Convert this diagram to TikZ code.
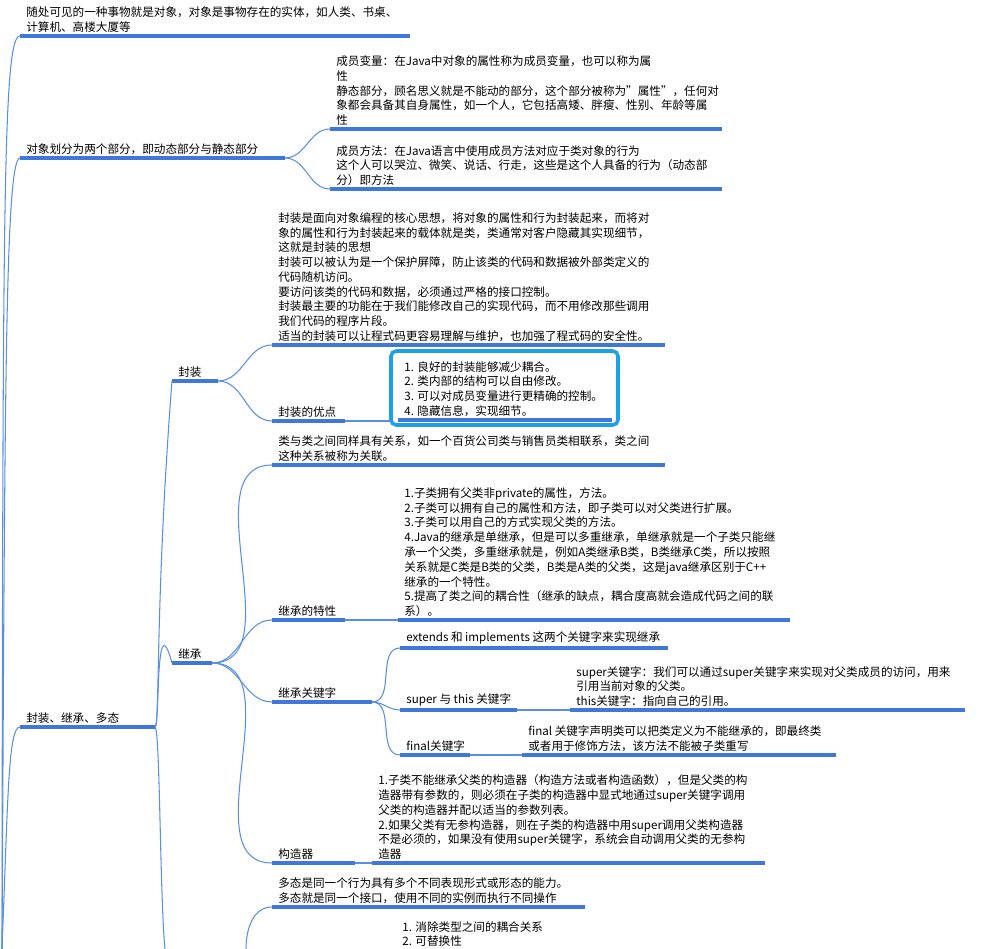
\documentclass[tikz,border=0pt]{standalone}
\usepackage{fontspec}
\setmainfont{Noto Sans CJK SC}
\usetikzlibrary{positioning}
\definecolor{lineblue}{HTML}{3F78D6}
\definecolor{linkblue}{HTML}{5A8FE0}
\definecolor{boxblue}{HTML}{1BA1E6}
% one topic: coordinates of its underline, the underline, and its text above it
\newcommand{\topic}[5]{%
  \coordinate (#1-s) at (#2,#4);
  \coordinate (#1-e) at (#3,#4);
  \draw[uline] (#1-s) -- (#1-e);
  \node[mytext] (#1) at ([xshift=6*0.02cm,yshift=3*0.02cm]#1-s) {#5};}
\begin{document}
\begin{tikzpicture}[x=0.02cm, y=-0.02cm]
\tikzset{
    mytext/.style={anchor=south west, inner sep=0pt, align=left, font=\fontsize{6.6}{8.4}\selectfont},
    uline/.style={draw=lineblue, line width=2.2pt},
    link/.style={draw=linkblue, line width=0.6pt},
    goodbox/.style={draw=boxblue, line width=2pt, rounded corners=3pt}
}
\useasboundingbox (0,0) rectangle (992,949);
\begin{scope}
\clip (0,0) rectangle (992,949);
\coordinate (root) at (2,949);

\topic{obj}{20}{410}{36}{随处可见的一种事物就是对象，对象是事物存在的实体，如人类、书桌、\\计算机、高楼大厦等}
\topic{parts}{20}{285}{158}{对象划分为两个部分，即动态部分与静态部分}
\topic{var}{330}{722}{129}{成员变量：在Java中对象的属性称为成员变量，也可以称为属\\性\\静态部分，顾名思义就是不能动的部分，这个部分被称为"属性"，任何对\\象都会具备其自身属性，如一个人，它包括高矮、胖瘦、性别、年龄等属\\性}
\topic{meth}{330}{722}{189}{成员方法：在Java语言中使用成员方法对应于类对象的行为\\这个人可以哭泣、微笑、说话、行走，这些是这个人具备的行为（动态部\\分）即方法}
\topic{oop}{20}{155}{727}{封装、继承、多态}

% encapsulation
\topic{enc}{172}{218}{381}{封装}
\topic{encdef}{272}{665}{345}{封装是面向对象编程的核心思想，将对象的属性和行为封装起来，而将对\\象的属性和行为封装起来的载体就是类，类通常对客户隐藏其实现细节，\\这就是封装的思想\\封装可以被认为是一个保护屏障，防止该类的代码和数据被外部类定义的\\代码随机访问。\\要访问该类的代码和数据，必须通过严格的接口控制。\\封装最主要的功能在于我们能修改自己的实现代码，而不用修改那些调用\\我们代码的程序片段。\\适当的封装可以让程式码更容易理解与维护，也加强了程式码的安全性。}
\topic{encgood}{272}{345}{421}{封装的优点}
\topic{encpts}{398}{612}{420}{1. 良好的封装能够减少耦合。\\2. 类内部的结构可以自由修改。\\3. 可以对成员变量进行更精确的控制。\\4. 隐藏信息，实现细节。}
\draw[goodbox] (391,351) rectangle (618,425);
\draw[link] (encgood-e) -- (391,421);

% inheritance
\topic{inh}{172}{212}{663}{继承}
\topic{assoc}{272}{665}{465}{类与类之间同样具有关系，如一个百货公司类与销售员类相联系，类之间\\这种关系被称为关联。}
\topic{feat}{272}{345}{620}{继承的特性}
\topic{featpts}{398}{790}{620}{1.子类拥有父类非private的属性，方法。\\2.子类可以拥有自己的属性和方法，即子类可以对父类进行扩展。\\3.子类可以用自己的方式实现父类的方法。\\4.Java的继承是单继承，但是可以多重继承，单继承就是一个子类只能继\\承一个父类，多重继承就是，例如A类继承B类，B类继承C类，所以按照\\关系就是C类是B类的父类，B类是A类的父类，这是java继承区别于C++\\继承的一个特性。\\5.提高了类之间的耦合性（继承的缺点，耦合度高就会造成代码之间的联\\系）。}
\topic{kw}{272}{372}{702}{继承关键字}
\topic{ext}{400}{668}{648}{extends 和 implements 这两个关键字来实现继承}
\topic{sup}{400}{517}{710}{super 与 this 关键字}
\topic{suptxt}{570}{965}{710}{super关键字：我们可以通过super关键字来实现对父类成员的访问，用来\\引用当前对象的父类。\\this关键字：指向自己的引用。}
\topic{fin}{400}{470}{755}{final关键字}
\topic{fintxt}{522}{836}{755}{final 关键字声明类可以把类定义为不能继承的，即最终类\\或者用于修饰方法，该方法不能被子类重写}
\topic{ctor}{272}{355}{863}{构造器}
\topic{ctortxt}{372}{765}{863}{1.子类不能继承父类的构造器（构造方法或者构造函数），但是父类的构\\造器带有参数的，则必须在子类的构造器中显式地通过super关键字调用\\父类的构造器并配以适当的参数列表。\\2.如果父类有无参构造器，则在子类的构造器中用super调用父类构造器\\不是必须的，如果没有使用super关键字，系统会自动调用父类的无参构\\造器}

% polymorphism
\coordinate (poly) at (165,949);
\coordinate (polysub) at (246,949);
\topic{polydef}{272}{585}{907}{多态是同一个行为具有多个不同表现形式或形态的能力。\\多态就是同一个接口，使用不同的实例而执行不同操作}
\node[mytext, anchor=north west] (polypts) at (402,921) {1. 消除类型之间的耦合关系\\2. 可替换性};

% connectors
\draw[link] (root) .. controls (3,200) and (3,36) .. (obj-s);
\draw[link] (root) .. controls (5,400) and (5,158) .. (parts-s);
\draw[link] (root) .. controls (8,800) and (8,727) .. (oop-s);
\foreach \c in {var,meth}
  \draw[link] (parts-e) to[out=0,in=180] (\c-s);
\foreach \c in {enc,inh}
  \draw[link] (oop-e) .. controls (160,727) and (155,600) .. (\c-s);
\draw[link] (oop-e) .. controls (160,727) and (160,900) .. (poly);
\foreach \c in {encdef,encgood}
  \draw[link] (enc-e) to[out=0,in=180] (\c-s);
\foreach \c in {assoc,feat,kw,ctor}
  \draw[link] (inh-e) to[out=0,in=180] (\c-s);
\foreach \c in {ext,sup,fin}
  \draw[link] (kw-e) to[out=0,in=180] (\c-s);
\draw[link] (feat-e) -- (featpts-s);
\draw[link] (sup-e) -- (suptxt-s);
\draw[link] (fin-e) -- (fintxt-s);
\draw[link] (ctor-e) -- (ctortxt-s);
\draw[link] (polysub) to[out=90,in=180] (polydef-s);
\end{scope}
\end{tikzpicture}
\end{document}
